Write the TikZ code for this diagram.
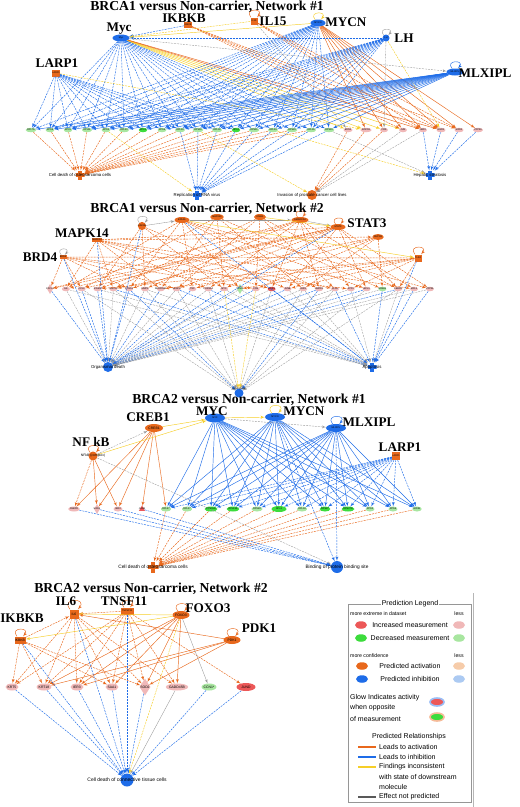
\documentclass[tikz,border=0pt]{standalone}
\usepackage{fontspec}
\setmainfont{Liberation Serif}
\newfontfamily\lgdfont{Liberation Sans}
\usetikzlibrary{shapes,arrows}

\definecolor{ipaor}{RGB}{232,104,28}
\definecolor{ipabl}{RGB}{30,108,232}
\definecolor{ipaye}{RGB}{246,206,40}
\definecolor{ipagr}{RGB}{150,150,150}
\definecolor{lgreen}{RGB}{168,230,160}
\definecolor{bgreen}{RGB}{60,220,60}
\definecolor{lpink}{RGB}{240,184,184}
\definecolor{ired}{RGB}{236,88,88}
\definecolor{lorange}{RGB}{246,204,170}
\definecolor{lblue}{RGB}{172,202,242}

\newcommand{\tinyt}{\lgdfont\fontsize{2.4}{2.8}\selectfont}
\newcommand{\midt}{\lgdfont\fontsize{3.4}{4}\selectfont}
\newcommand{\funt}{\lgdfont\fontsize{4.3}{5}\selectfont}
\newcommand{\hubt}{\bfseries\fontsize{13.2}{14}\selectfont}
\newcommand{\ttlt}{\bfseries\fontsize{13.7}{14}\selectfont}
\newcommand{\lgdt}{\lgdfont\fontsize{7}{8}\selectfont}
\newcommand{\lgst}{\lgdfont\fontsize{5.2}{6}\selectfont}

\tikzstyle{hubb} = [ellipse, fill=ipabl, minimum width=17, minimum height=7, inner sep=0pt, font=\tinyt]
\tikzstyle{hubo} = [ellipse, fill=ipaor, minimum width=15, minimum height=6, inner sep=0pt, font=\tinyt]
\tikzstyle{hubsq} = [rectangle, fill=ipaor, minimum size=6, inner sep=0pt, font=\tinyt]
\tikzstyle{hubc} = [circle, fill=ipaor, minimum size=6, inner sep=0pt, font=\tinyt]
\tikzstyle{tg} = [ellipse, fill=lgreen, minimum width=8, minimum height=4.5, inner sep=0pt, font=\tinyt]
\tikzstyle{tgb} = [tg, fill=bgreen]
\tikzstyle{tp} = [tg, fill=lpink]
\tikzstyle{tr} = [tg, fill=ired]
\tikzstyle{tpd} = [diamond, fill=lpink, minimum width=6, minimum height=10, inner sep=0pt]
\tikzstyle{tgd} = [tpd, fill=lgreen]
\tikzstyle{tl} = [font=\tinyt, inner sep=0pt]
\tikzstyle{fplo} = [rectangle, minimum size=9, inner sep=0pt, path picture={
    \fill[ipaor] ([xshift=-1.8]path picture bounding box.north) rectangle ([xshift=1.8]path picture bounding box.south);
    \fill[ipaor] ([yshift=-1.8]path picture bounding box.west) rectangle ([yshift=1.8]path picture bounding box.east);}]
\tikzstyle{fplb} = [rectangle, minimum size=9, inner sep=0pt, path picture={
    \fill[ipabl] ([xshift=-1.8]path picture bounding box.north) rectangle ([xshift=1.8]path picture bounding box.south);
    \fill[ipabl] ([yshift=-1.8]path picture bounding box.west) rectangle ([yshift=1.8]path picture bounding box.east);}]
\tikzstyle{fcb} = [circle, fill=ipabl, minimum size=10, inner sep=0pt]
\tikzstyle{fco} = [circle, fill=ipaor, minimum size=10, inner sep=0pt]
\tikzstyle{ftxt} = [font=\funt, inner sep=0pt]
\tikzstyle{hlab} = [font=\hubt, inner sep=0pt, anchor=base]
\tikzstyle{ttl} = [font=\ttlt, inner sep=0pt, anchor=base]
\tikzstyle{act} = [draw=ipaor, line width=0.45pt, -latex']
\tikzstyle{actd} = [act, dash pattern=on 2pt off 1pt]
\tikzstyle{inh} = [draw=ipabl, line width=0.45pt, -latex']
\tikzstyle{inhd} = [inh, dash pattern=on 2pt off 1pt]
\tikzstyle{inc} = [draw=ipaye, line width=0.45pt, -latex']
\tikzstyle{incd} = [inc, dash pattern=on 2pt off 1pt]
\tikzstyle{np} = [draw=ipagr, line width=0.35pt, -latex', dash pattern=on 2pt off 1pt]
\tikzstyle{nps} = [draw=ipagr, line width=0.35pt, -latex']
\tikzstyle{sloop} = [loop, out=130, in=50, min distance=10pt, looseness=5]
\tikzstyle{lel} = [ellipse, minimum width=12, minimum height=7.5, inner sep=0pt]
\tikzstyle{lgd} = [font=\lgdt, inner sep=0pt]
\tikzstyle{lgs} = [font=\lgst, inner sep=0pt]

\begin{document}
\begin{tikzpicture}[x=1pt, y=1pt, every loop/.style={}]
\useasboundingbox (0,0) rectangle (520,-807);

    % Network 1: BRCA1 #1
\node[hubb] (Myc) at (121,-38) {Myc};
\node[hubsq] (IKBKBa) at (188,-25) {IKBKB};
\node[hubsq, minimum size=7] (IL15) at (254,-21) {IL15};
\node[hubb, minimum width=15] (MYCNa) at (318,-23) {MYCN};
\node[circle, fill=ipabl, minimum size=7, inner sep=0pt, font=\tinyt] (LH) at (386,-38) {LH};
\node[hubb] (MLXIPLa) at (455,-72) {MLXIPL};
\node[hubsq, minimum size=7] (LARPa) at (56,-73) {LARP1};
\foreach \i/\x/\s/\t in {1/31/tg/RPL7A, 2/50/tg/RPS8, 3/68/tg/RPL5, 4/87/tg/RPL11,
    5/106/tg/RPS3, 6/124/tg/RPL10, 7/143/tgb/RPL3, 8/162/tg/RPS6, 9/180/tg/RPL18,
    10/198/tg/RPS19, 11/217/tg/RPL32, 12/236/tgb/RPL4, 13/254/tg/RPS11, 14/273/tg/RPL13,
    15/292/tg/RPS23, 16/311/tg/RPL26, 17/329/tg/RPS24, 18/348/tp/EDN1, 19/366/tp/SOCS3,
    20/384/tp/FOS, 21/403/tp/JUN, 22/423/tp/IER3, 23/441/tp/EGR1, 24/459/tp/SOD2, 25/478/tp/ZFP36}
  \node[\s] (a\i) at (\x,-130) {\t};
\node[fplo] (f11) at (80,-175) {};
\node[fplb] (f12) at (197,-195) {};
\node[fco] (f13) at (312,-195) {};
\node[fplb] (f14) at (430,-175) {};

    % Draw edges
\foreach \t in {1,...,17} \path[inhd] (Myc) -- (a\t);
\foreach \t in {18,...,21} \path[inc] (Myc) -- (a\t);
\foreach \t in {22,23} \path[act] (Myc) -- (a\t);
\foreach \t in {1,...,17} \path[inhd] (MYCNa) -- (a\t);
\foreach \t in {19,...,25} \path[act] (MYCNa) -- (a\t);
\foreach \t in {2,...,16} \path[inhd] (LH) -- (a\t);
\path[np] (LH) -- (a20);
\path[incd] (LH) -- (a23);
\foreach \t in {1,...,17} \path[inh] (MLXIPLa) -- (a\t);
\foreach \t in {1,...,12} \path[inhd] (LARPa) -- (a\t);
\path[incd] (LARPa) -- (a19);
\foreach \t in {21,...,24} \path[actd] (IKBKBa) -- (a\t);
\path[inhd] (IKBKBa) -- (Myc);
\path[incd] (IL15) -- (Myc);
\foreach \t in {22,23,24} \path[actd] (IL15) -- (a\t);
\path[np] (IL15) -- (a18);
\path[inc] (MYCNa) -- (Myc);
\path[inhd] (LH) -- (Myc);
\path[np] (Myc) -- (MLXIPLa);
\path[act] (IL15) to[sloop] (IL15);
\path[inc] (MYCNa) to[sloop] (MYCNa);
\path[nps] (LH) to[sloop] (LH);
\path[inh] (MLXIPLa) to[sloop] (MLXIPLa);
\foreach \t in {1,...,16} \path[actd] (a\t) -- (f11);
\foreach \t in {9,...,17} \path[inhd] (a\t) -- (f12);
\path[incd] (a5) -- (f12);
\foreach \t in {18,19,20} \path[actd] (a\t) -- (f13);
\foreach \t in {21,22} \path[np] (a\t) -- (f13);
\path[incd] (a10) -- (f13);
\foreach \t in {22,...,25} \path[inhd] (a\t) -- (f14);
\path[np] (a17) -- (f14);
\path[incd] (a14) -- (f14);

\node[ftxt] (f11t) at (f11) {Cell death of osteosarcoma cells};
\node[ftxt] (f12t) at (f12) {Replication of RNA virus};
\node[ftxt] (f13t) at (f13) {Invasion of prostate cancer cell lines};
\node[ftxt] (f14t) at (f14) {Hepatic steatosis};
\node[ttl] (t1) at (207,-10) {BRCA1 versus Non-carrier, Network \#1};
\node[hlab] (Myc-l) at (119,-31) {Myc};
\node[hlab] (IKBKBa-l) at (184,-22) {IKBKB};
\node[hlab] (IL15-l) at (273,-25) {IL15};
\node[hlab] (MYCNa-l) at (346,-26) {MYCN};
\node[hlab] (LH-l) at (404,-42) {LH};
\node[hlab] (MLXIPLa-l) at (485,-77) {MLXIPL};
\node[hlab] (LARPa-l) at (57,-67) {LARP1};

    % Network 2: BRCA1 #2
\node[hubc] (GSK) at (142,-226) {GSK3B};
\node[hubo] (EPAS) at (182,-220) {EPAS1};
\node[hubo, minimum width=12] (MAPK) at (217,-217) {MAP3K1};
\node[hubo, minimum width=12] (IFNB) at (260,-217) {IFNB1};
\node[hubo, minimum width=17] (SMARCA) at (300,-220) {SMARCA4};
\node[hubo] (STAT) at (338,-227) {STAT3};
\node[hubo, minimum width=11] (NUPR) at (378,-237) {NUPR1};
\node[hubsq, minimum size=7] (TLR) at (418,-258) {TLR4};
\node[hubsq, minimum width=9, minimum height=4] (MAPK14) at (97,-240) {MAPK14};
\node[hubsq, minimum width=7, minimum height=4] (BRD4) at (63,-257) {BRD4};
\foreach \i/\s/\t in {1/tpd/CXCL8, 2/tp/IL6, 3/tp/CCL2, 4/tp/ICAM1, 5/tp/SOCS3, 6/tp/PTGS2,
    7/tp/MMP9, 8/tp/SERPINE1, 9/tp/VEGFA, 10/tp/TNF, 11/tp/CDKN1A, 12/tp/MYC, 13/tgd/TXNIP,
    14/tp/FOS, 15/tr/EGR1, 16/tp/JUNB, 17/tp/IER3, 18/tp/HMOX1, 19/tp/KLF6, 20/tp/ATF3,
    21/tp/BCL3, 22/tg/NR4A1, 23/tp/CEBPD, 24/tp/MCL1, 25/tp/ZFP36}
  \node[\s, label={[tl]center:\t}] (b\i) at ({34.17+15.83*\i},-289) {};
\node[fcb] (f21) at (108,-367) {};
\node[fplb] (f22) at (372,-367) {};
\node[fcb, minimum size=9] (f23) at (239,-393) {};

\foreach \h/\l in {BRD4/{1,3,6,9,14,20}, MAPK14/{2,5,8,11,15,19,24}, GSK/{4,7,12,16},
    EPAS/{2,6,10,13,18,21,25}, MAPK/{3,8,12,17,22}, IFNB/{5,9,14,19,23},
    SMARCA/{1,4,7,11,15,18,20,24}, STAT/{1,2,3,6,9,12,16,21,23,25},
    NUPR/{5,10,14,17,22}, TLR/{4,8,13,16,20,23}}
  \foreach \t in \l \path[actd] (\h) -- (b\t);
\path[actd] (BRD4) -- (TLR);
\path[actd] (MAPK14) -- (STAT);
\path[actd] (MAPK14) -- (NUPR);
\path[nps] (GSK) -- (EPAS);
\path[nps] (EPAS) -- (SMARCA);
\path[nps] (SMARCA) -- (STAT);
\path[inc] (EPAS) -- (TLR);
\path[inc] (IFNB) -- (STAT);
\path[nps] (GSK) to[sloop] (GSK);
\path[act] (SMARCA) to[sloop] (SMARCA);
\path[act] (STAT) to[sloop] (STAT);
\path[act] (TLR) to[sloop] (TLR);
\path[nps] (BRD4) to[sloop] (BRD4);
\foreach \t in {1,3,4,6,8,10,12,14,16,18,21,23} \path[inhd] (b\t) -- (f21);
\foreach \t in {2,5,7,9,11,13,15,17,19,20,22,24,25} \path[np] (b\t) -- (f21);
\foreach \t in {5,9,11,15,19,22,24,25} \path[inhd] (b\t) -- (f22);
\foreach \t in {2,4,7,12,13,16,17,20,23} \path[np] (b\t) -- (f22);
\foreach \t in {3,5,7,9,11,15,17,19,21,23} \path[np] (b\t) -- (f23);
\foreach \t in {12,14} \path[incd] (b\t) -- (f23);
\foreach \t in {6,18} \path[inhd] (b\t) -- (f23);
\path[inhd] (BRD4) -- (f21);
\path[inhd] (MAPK14) -- (f21);
\path[inhd] (GSK) -- (f21);
\path[inhd] (EPAS) -- (f22);
\path[inhd] (STAT) -- (f21);
\path[inhd] (TLR) -- (f22);

\node[ftxt] (f21t) at (f21) {Organismal death};
\node[ftxt] (f22t) at (f22) {Apoptosis};
\node[ftxt, font=\tinyt] (f23t) at (239,-389) {Hyperplasia};
\node[ttl] (t2) at (207,-212) {BRCA1 versus Non-carrier, Network \#2};
\node[hlab] (MAPK14-l) at (82,-237) {MAPK14};
\node[hlab] (BRD4-l) at (40,-261) {BRD4};
\node[hlab] (STAT-l) at (367,-227) {STAT3};

    % Network 3: BRCA2 #1
\node[hubb, minimum width=20, minimum height=9] (MYCc) at (215,-418) {MYC};
\node[hubb, minimum width=20, minimum height=8] (MYCNc) at (275,-417) {MYCN};
\node[hubb, minimum width=20, minimum height=8] (MLXIPLc) at (336,-428) {MLXIPL};
\node[hubo, minimum width=18, minimum height=8, font=\midt] (CREB) at (154,-428) {CREB1};
\node[hubc, minimum size=9] (NFkB) at (93,-456) {};
\node[hubsq, minimum size=8] (LARPc) at (396,-456) {LARP1};
\foreach \i/\x/\s/\t in {1/74/tp/CEBPD, 3/118/tp/IER3, 5/166/tg/RPL37,
    6/187/tg/RPL27, 7/211/tgb/RPS15A, 8/233/tgb/RPL13A, 9/257/tg/RPS4X, 11/302/tg/RPL34,
    12/325/tgb/RPS27, 13/348/tgb/RPS27A, 14/370/tg/RPS2, 15/393/tg/RPS6, 16/417/tg/EIF3E}
  \node[\s, minimum width=9, minimum height=5] (c\i) at (\x,-509) {\t};
\node[tpd, label={[tl]center:SOD2}] (c2) at (97,-509) {};
\node[regular polygon, regular polygon sides=3, fill=ired, minimum size=7, inner sep=0pt,
    label={[tl]center:JUNB}] (c4) at (142,-509) {};
\node[tgb, minimum width=15, minimum height=6] (c10) at (279,-509) {RPL3};
\node[fplo, minimum size=11] (f31) at (153,-567) {};
\node[fcb, minimum size=12] (f32) at (337,-567) {};

\foreach \t in {5,...,16} \path[inh] (MYCc) -- (c\t);
\foreach \t in {5,...,16} \path[inh] (MYCNc) -- (c\t);
\foreach \t in {5,...,16} \path[inh] (MLXIPLc) -- (c\t);
\foreach \t in {5,...,16} \path[inhd] (LARPc) -- (c\t);
\foreach \t in {1,...,5} \path[act] (CREB) -- (c\t);
\path[inc] (CREB) -- (MYCc);
\path[actd] (NFkB) -- (c1);
\foreach \t in {2,3} \path[act] (NFkB) -- (c\t);
\path[inc] (NFkB) -- (MYCc);
\path[np] (NFkB) -- (CREB);
\path[np] (NFkB) -- (f32);
\path[inc] (MYCc) -- (MYCNc);
\path[np] (MYCc) -- (MLXIPLc);
\path[act] (NFkB) to[sloop] (NFkB);
\path[inc] (MYCNc) to[sloop] (MYCNc);
\path[inh] (MLXIPLc) to[sloop] (MLXIPLc);
\foreach \t in {5,...,16} \path[actd] (c\t) -- (f31);
\foreach \t in {1,...,4} \path[inhd] (c\t) -- (f32);
\path[inhd] (MYCNc) -- (f32);
\path[inhd] (MLXIPLc) -- (f32);

\node[ftxt, font=\midt] (NFkB-t) at (NFkB) {NFkB (complex)};
\node[ftxt, font=\lgdfont\fontsize{4.8}{5}\selectfont] (f31t) at (f31) {Cell death of osteosarcoma cells};
\node[ftxt, font=\lgdfont\fontsize{4.8}{5}\selectfont] (f32t) at (f32) {Binding of protein binding site};
\node[ttl] (t3) at (249,-403) {BRCA2 versus Non-carrier, Network \#1};
\node[hlab] (MYCc-l) at (212,-415) {MYC};
\node[hlab] (MYCNc-l) at (304,-415) {MYCN};
\node[hlab] (MLXIPLc-l) at (369,-426) {MLXIPL};
\node[hlab] (CREB-l) at (148,-421) {CREB1};
\node[hlab] (NFkB-l) at (91,-446) {NF kB};
\node[hlab] (LARPc-l) at (400,-451) {LARP1};

    % Network 4: BRCA2 #2
\node[hubsq, minimum size=9, font=\midt] (IL6) at (74,-614) {IL6};
\node[hubsq, minimum width=13, minimum height=7] (TNFSF) at (127,-611) {TNFSF11};
\node[hubo, minimum width=17, minimum height=8, font=\midt] (FOXO) at (181,-615) {FOXO3};
\node[hubsq, minimum width=11, minimum height=7, font=\midt] (IKBKBd) at (20,-640) {IKBKB};
\node[hubo, minimum width=17, minimum height=8, font=\midt] (PDK) at (232,-640) {PDK1};
\foreach \i/\x/\s/\t in {1/12/tp/KRT5, 2/44/tp/KRT18, 3/77/tp/IER3, 4/112/tp/SAA1,
    6/177/tp/GADD45B, 7/209/tg/CCN1*}
  \node[\s, minimum width=13, minimum height=7, font=\midt] (d\i) at (\x,-687) {\t};
\node[tpd, minimum width=11, minimum height=17, label={[tl, font=\midt]center:SOD2}] (d5) at (145,-687) {};
\node[tr, minimum width=19, minimum height=8, font=\midt] (d8) at (246,-687) {JUND};
\node[fcb, minimum size=13] (f41) at (127,-780) {};

\foreach \t in {1,...,6} \path[actd] (IL6) -- (d\t);
\foreach \t in {1,...,6} \path[actd] (TNFSF) -- (d\t);
\path[actd] (TNFSF) -- (IL6);
\path[actd] (TNFSF) -- (d8);
\foreach \t in {2,...,6} \path[act] (FOXO) -- (d\t);
\path[inc] (FOXO) -- (IL6);
\path[inc] (FOXO) -- (IKBKBd);
\path[nps] (FOXO) -- (d7);
\path[act] (PDK) -- (IL6);
\foreach \t in {2,3,5} \path[act] (PDK) -- (d\t);
\foreach \t in {1,2,4,5} \path[actd] (IKBKBd) -- (d\t);
\path[actd] (IKBKBd) -- (IL6);
\path[act] (IL6) to[sloop] (IL6);
\path[act] (TNFSF) to[sloop] (TNFSF);
\path[act] (FOXO) to[sloop] (FOXO);
\path[act] (IKBKBd) to[sloop] (IKBKBd);
\path[act] (PDK) to[sloop] (PDK);
\foreach \t in {1,2,3,4,5,7,8} \path[inhd] (d\t) -- (f41);
\path[nps] (d6) -- (f41);
\path[inhd, line width=0.9pt] (TNFSF) -- (f41);
\path[incd] (FOXO) -- (f41);
\path[inhd] (IKBKBd) -- (f41);
\path[inhd] (IL6) -- (f41);

\node[ftxt, font=\lgdfont\fontsize{5}{6}\selectfont] (f41t) at (f41) {Cell death of connective tissue cells};
\node[ttl] (t4) at (151,-592) {BRCA2 versus Non-carrier, Network \#2};
\node[hlab] (IL6-l) at (66,-605) {IL6};
\node[hlab] (TNFSF-l) at (124,-605) {TNSF11};
\node[hlab] (FOXO-l) at (208,-612) {FOXO3};
\node[hlab] (IKBKBd-l) at (22,-622) {IKBKB};
\node[hlab] (PDK-l) at (259,-632) {PDK1};

    % Legend
\draw[ipagr!70] (473,-593) -- (473,-807);
\draw[ipagr] (348,-604) rectangle (471,-802);
\node[lgd, fill=white, inner sep=1pt] (lgt) at (410,-604) {Prediction Legend};
\node[lgs, anchor=west] (lm1) at (350,-614) {more extreme in dataset};
\node[lgs] (ll1) at (459,-614) {less};
\node[lel, fill=ired] (le1) at (361,-625) {};
\node[lgd] (lt1) at (410,-625) {Increased measurement};
\node[lel, fill=lpink] (lf1) at (459,-625) {};
\node[lel, fill=bgreen] (le2) at (361,-638) {};
\node[lgd] (lt2) at (410,-638) {Decreased measurement};
\node[lel, fill=lgreen] (lf2) at (459,-638) {};
\node[lgs, anchor=west] (lm2) at (350,-656) {more confidence};
\node[lgs] (ll2) at (459,-656) {less};
\node[lel, fill=ipaor] (le3) at (362,-666) {};
\node[lgd] (lt3) at (410,-666) {Predicted activation};
\node[lel, fill=lorange] (lf3) at (459,-666) {};
\node[lel, fill=ipabl] (le4) at (362,-679) {};
\node[lgd] (lt4) at (410,-679) {Predicted inhibition};
\node[lel, fill=lblue] (lf4) at (459,-679) {};
\node[lgd, anchor=west] (lgl1) at (350,-698) {Glow Indicates activity};
\node[lgd, anchor=west] (lgl2) at (350,-708) {when opposite};
\node[lgd, anchor=west] (lgl3) at (350,-719) {of measurement};
\node[lel, fill=ired, draw=ipabl!45, line width=1.6pt, minimum width=14, minimum height=8] (lg1) at (437,-702) {};
\node[lel, fill=bgreen, draw=ipaor!45, line width=1.6pt, minimum width=14, minimum height=8] (lg2) at (437,-717) {};
\node[lgd] (lpr) at (409,-737) {Predicted Relationships};
\draw[ipaor, line width=1.3pt] (358,-747) -- (376,-747);
\draw[ipabl, line width=1.3pt] (358,-757) -- (376,-757);
\draw[ipaye, line width=1.3pt] (358,-767) -- (376,-767);
\draw[black!65, line width=1.3pt] (358,-797) -- (376,-797);
\node[lgd, anchor=west] (lr1) at (379,-747) {Leads to activation};
\node[lgd, anchor=west] (lr2) at (379,-757) {Leads to inhibition};
\node[lgd, anchor=west] (lr3) at (379,-767) {Findings inconsistent};
\node[lgd, anchor=west] (lr3b) at (379,-777) {with state of downstream};
\node[lgd, anchor=west] (lr3c) at (379,-787) {molecule};
\node[lgd, anchor=west] (lr4) at (379,-797) {Effect not predicted};

\end{tikzpicture}
\end{document}
